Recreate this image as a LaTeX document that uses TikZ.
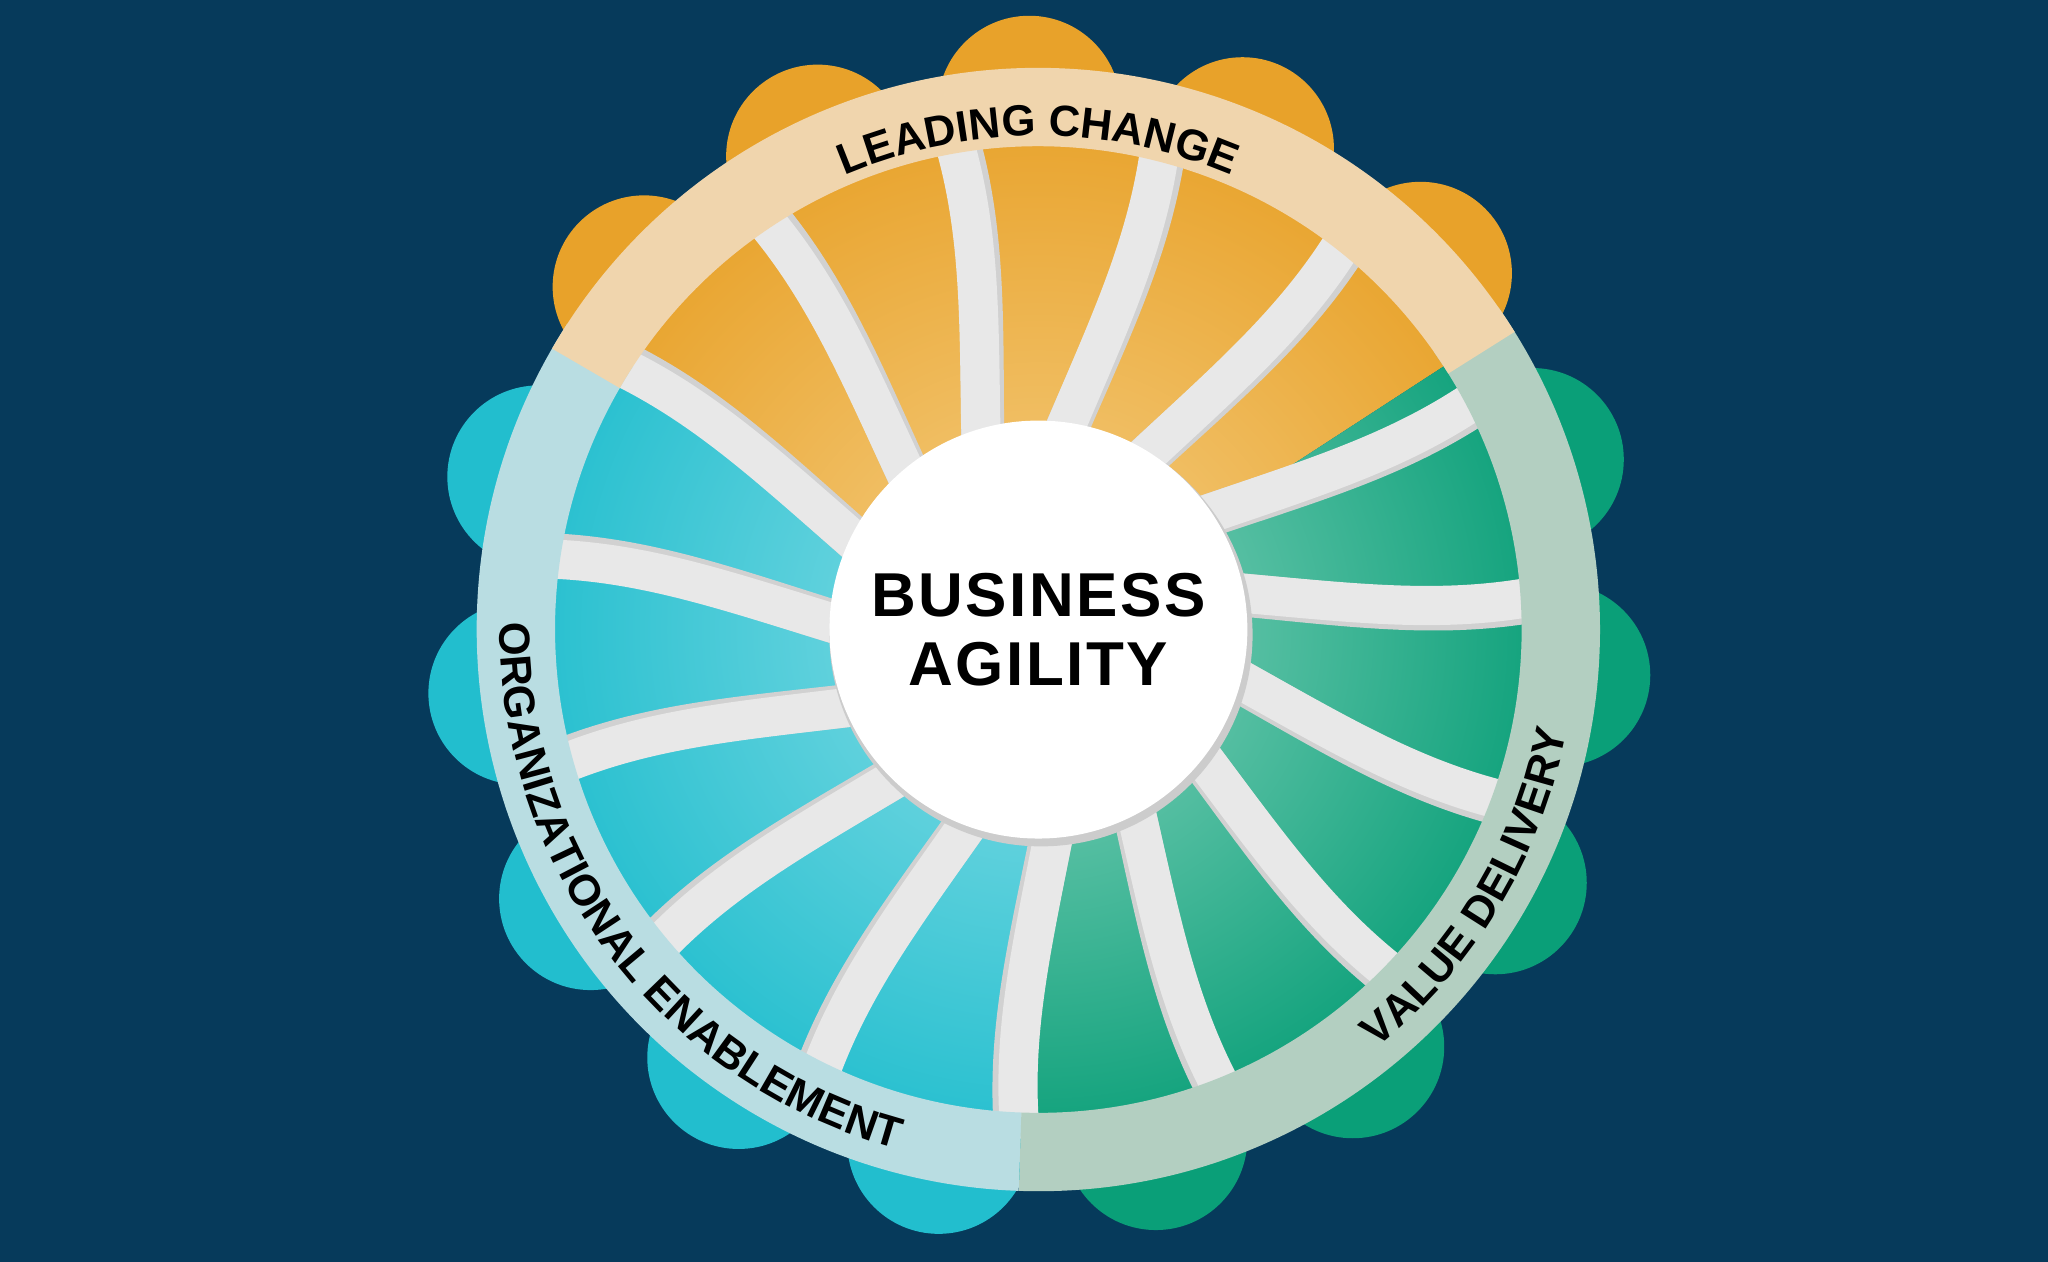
\documentclass[tikz,border=0pt]{standalone}
\usepackage{fontspec}
\setmainfont{Liberation Sans}
\newfontfamily\hubfont[LetterSpace=4]{Liberation Sans Bold}
\newfontfamily\ringfont{Liberation Sans Bold}
\usepackage{tikz}
\usetikzlibrary{positioning, decorations.text}
\definecolor{bgblue}{HTML}{063A5B}
\definecolor{ordark}{HTML}{E8A22A}
\definecolor{orlight}{HTML}{F5CF85}
\definecolor{orband}{HTML}{F0D5AD}
\definecolor{grdark}{HTML}{0A9F78}
\definecolor{grlight}{HTML}{86D3BD}
\definecolor{grband}{HTML}{B3CFC1}
\definecolor{tedark}{HTML}{22BECE}
\definecolor{telight}{HTML}{86DDE6}
\definecolor{teband}{HTML}{B9DDE2}
\definecolor{spoke}{HTML}{E8E8E8}

\begin{document}
\begin{tikzpicture}  [
        bump/.style = {circle, minimum size = 14mm, inner sep = 0pt},
        hub/.style = {circle, fill=white, minimum size = 32mm, align=center, font=\hubfont\fontsize{13.5}{15}\selectfont},
        band/.style = {line width = 6mm},
        spokeline/.style = {line width = 3mm, spoke, line cap=butt},
        shadow/.style = {line width = 3.3mm, black!18, line cap=butt},
        ringtext/.style = {decorate, decoration={text along path, text align=center, text={|\ringfont\fontsize{9.5}{11}\selectfont|#1}}}
    ]

    \useasboundingbox (0,0) rectangle (15.68,9.66);
    \fill[bgblue] (-0.1,-0.1) rectangle (15.78,9.76);
    \coordinate (c) at (7.95,4.84);

    % scallops
    \foreach \a in {91,67,43,115,139}
        \node[bump, fill=ordark] (b\a) at ([shift={(\a:4)}]c) {};
    \foreach \a in {19,-5,-29,-53,-77}
        \node[bump, fill=grdark] (b\a) at ([shift={(\a:4)}]c) {};
    \foreach \a in {-101,-125,-149,-173,-197}
        \node[bump, fill=tedark] (b\a) at ([shift={(\a:4)}]c) {};

    % shaded sectors
    \begin{scope}
        \clip (c) -- ++(33:4.1) arc[start angle=33, end angle=149, radius=4.1] -- cycle;
        \shade[inner color=orlight, outer color=ordark] (c) circle (4.1);
    \end{scope}
    \begin{scope}
        \clip (c) -- ++(-91:4.1) arc[start angle=-91, end angle=33, radius=4.1] -- cycle;
        \shade[inner color=grlight, outer color=grdark] (c) circle (4.1);
    \end{scope}
    \begin{scope}
        \clip (c) -- ++(149:4.1) arc[start angle=149, end angle=269, radius=4.1] -- cycle;
        \shade[inner color=telight, outer color=tedark] (c) circle (4.1);
    \end{scope}

    % spokes
    \foreach \a in {131,107,83,59,35,11,-13,-37,-61,-85,-109,-133,-157,-181,-205} {
        \draw[shadow] ([shift={(\a-0.5:1.5)}]c) .. controls ([shift={(\a-6.5:2.4)}]c) and ([shift={(\a-9.5:3.1)}]c) .. ([shift={(\a-7.5:3.9)}]c);
        \draw[spokeline] ([shift={(\a:1.5)}]c) .. controls ([shift={(\a-6:2.4)}]c) and ([shift={(\a-9:3.1)}]c) .. ([shift={(\a-7:3.9)}]c);
    }

    % bands
    \draw[band, teband] ([shift={(147:4)}]c) arc[start angle=147, end angle=268, radius=4];
    \draw[band, grband] ([shift={(-92:4)}]c) arc[start angle=-92, end angle=35, radius=4];
    \draw[band, orband] ([shift={(32:4)}]c) arc[start angle=32, end angle=150, radius=4];

    % hub
    \fill[black!20] ([shift={(0.02,-0.04)}]c) circle (1.62);
    \node[hub] (agility) at (c) {BUSINESS\\AGILITY};

    % ring labels
    \path[ringtext={LEADING CHANGE}] ([shift={(125:3.78)}]c) arc[start angle=125, end angle=55, radius=3.78];
    \path[ringtext={ORGANIZATIONAL ENABLEMENT}] ([shift={(172:4.12)}]c) arc[start angle=172, end angle=262, radius=4.12];
    \path[ringtext={VALUE DELIVERY}] ([shift={(-62:4.12)}]c) arc[start angle=-62, end angle=0, radius=4.12];

\end{tikzpicture}
\end{document}
